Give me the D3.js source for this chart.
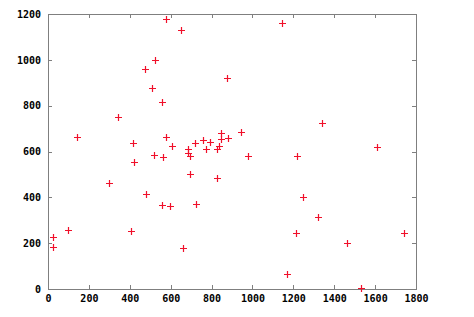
<!DOCTYPE html>
<html>
<head>
<meta charset="utf-8">
<script src="https://cdn.jsdelivr.net/npm/d3@7"></script>
<style>
  html, body { margin: 0; padding: 0; background: #fff; }
  svg { display: block; }
</style>
</head>
<body>
<script>
const xValues = [577, 650, 525, 474, 509, 556, 875, 344, 143, 575, 417, 605, 520, 564, 685, 683, 697, 719, 760, 771, 794, 844, 844, 880, 836, 828, 943, 1147, 1341, 1607, 976, 1219, 298, 421, 477, 559, 595, 724, 697, 828, 407, 99, 24, 24, 660, 1248, 1320, 1214, 1739, 1462, 1169, 1529];
const yValues = [1177, 1130, 1000, 960, 876, 816, 920, 750, 665, 665, 636, 625, 584, 575, 610, 595, 581, 636, 650, 610, 643, 680, 654, 661, 626, 610, 685, 1160, 726, 620, 582, 582, 463, 554, 415, 366, 360, 370, 500, 485, 251, 259, 228, 184, 179, 401, 314, 245, 245, 199, 65, 3];
const xTicks = [0, 200, 400, 600, 800, 1000, 1200, 1400, 1600, 1800];
const yTicks = [0, 200, 400, 600, 800, 1000, 1200];

const W = 474, H = 317;
const m = { left: 48, right: 58, top: 14, bottom: 28 };

const svg = d3.select("body").append("svg").attr("width", W).attr("height", H);

const x = d3.scaleLinear().domain([0, 1800]).range([m.left, W - m.right]);
const y = d3.scaleLinear().domain([0, 1200]).range([H - m.bottom, m.top]);

const axisColor = "#7f7f7f";
const font = "'DejaVu Sans Mono', monospace";

function styleAxis(g, showText) {
  g.select(".domain").remove();
  g.selectAll(".tick line").attr("stroke", axisColor).attr("stroke-width", 1).attr("shape-rendering", "crispEdges");
  g.selectAll(".tick text")
    .attr("font-family", font).attr("font-weight", "bold").attr("font-size", 10).attr("fill", "#000");
  if (!showText) g.selectAll(".tick text").remove();
}

// bottom
svg.append("g").attr("transform", `translate(0,${H - m.bottom})`)
  .call(d3.axisBottom(x).tickValues(xTicks).tickFormat(d3.format("d")).tickSizeInner(-4).tickSizeOuter(0).tickPadding(6))
  .call(g => styleAxis(g, true));
// top
svg.append("g").attr("transform", `translate(0,${m.top})`)
  .call(d3.axisTop(x).tickValues(xTicks).tickSizeInner(-4).tickSizeOuter(0))
  .call(g => styleAxis(g, false));
// left
svg.append("g").attr("transform", `translate(${m.left},0)`)
  .call(d3.axisLeft(y).tickValues(yTicks).tickFormat(d3.format("d")).tickSizeInner(-4).tickSizeOuter(0).tickPadding(7))
  .call(g => styleAxis(g, true));
// right
svg.append("g").attr("transform", `translate(${W - m.right},0)`)
  .call(d3.axisRight(y).tickValues(yTicks).tickSizeInner(-4).tickSizeOuter(0))
  .call(g => styleAxis(g, false));

// border box
svg.append("rect")
  .attr("x", x(0)).attr("y", y(1200))
  .attr("width", x(1800) - x(0)).attr("height", y(0) - y(1200))
  .attr("fill", "none").attr("stroke", axisColor).attr("stroke-width", 1)
  .attr("shape-rendering", "crispEdges");

// points
const pts = xValues.map((v, i) => [v, yValues[i]]);
const s = 3.5;
const marks = svg.append("g").attr("stroke", "#f0102a").attr("stroke-width", 1.2);
marks.selectAll("path").data(pts).join("path")
  .attr("d", d => {
    const px = Math.round(x(d[0])) + 0.5, py = Math.round(y(d[1])) + 0.5;
    return `M${px - s},${py}H${px + s}M${px},${py - s}V${py + s}`;
  });
</script>
</body>
</html>
